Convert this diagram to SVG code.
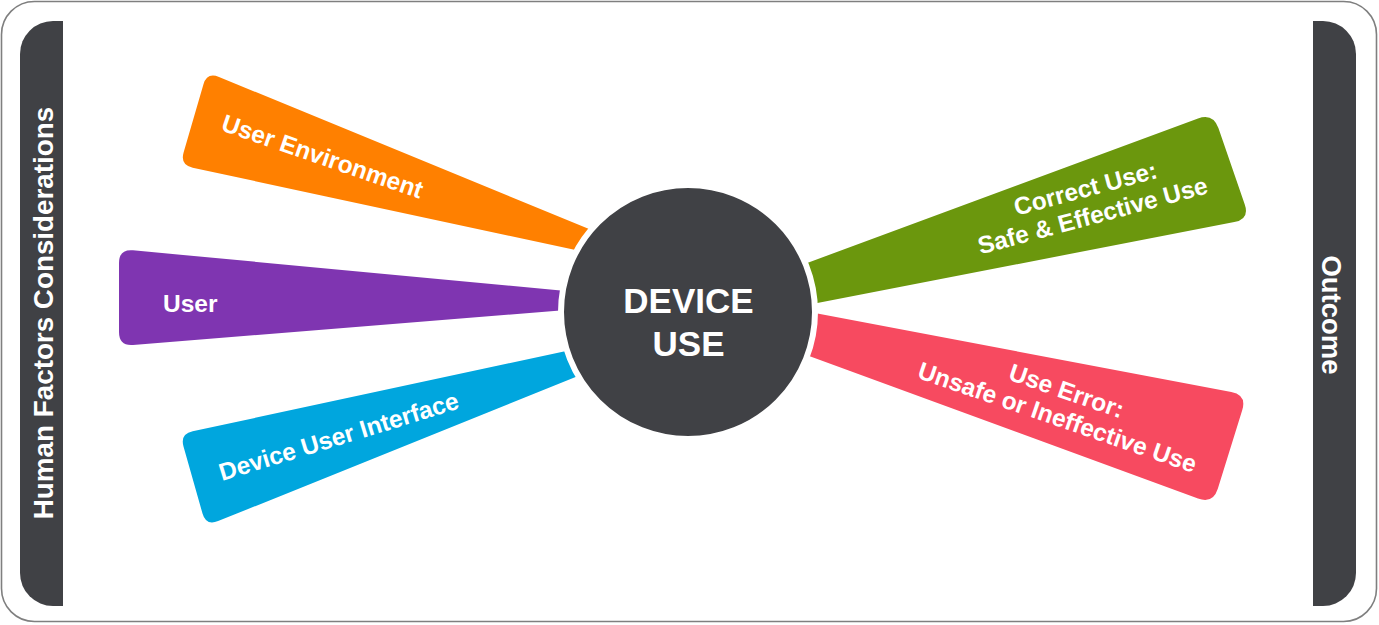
<svg xmlns="http://www.w3.org/2000/svg" width="1379" height="625" viewBox="0 0 1379 625">
<style>
text{font-family:"Liberation Sans",Arial,sans-serif;font-weight:bold;fill:#ffffff}
.lbl{font-size:24.5px}
.bar{fill:#404145}
</style>
<rect x="1.5" y="1.5" width="1375" height="620" rx="33" ry="33" fill="#ffffff" stroke="#7f7f7f" stroke-width="1.6"/>
<g id="left-bar">
<path class="bar" d="M63,21 L53,21 A33,33 0 0 0 20,54 L20,573 A33,33 0 0 0 53,606 L63,606 Z"/>
<text transform="translate(53,313) rotate(-90)" text-anchor="middle" font-size="27.8">Human Factors Considerations</text>
</g>
<g id="right-bar">
<path class="bar" d="M1313,21 L1323,21 A33,33 0 0 1 1356,54 L1356,573 A33,33 0 0 1 1323,606 L1313,606 Z"/>
<text transform="translate(1322,315) rotate(90)" text-anchor="middle" font-size="27.5">Outcome</text>
</g>
<g id="connectors">
<path id="w-env" fill="#ff8000" d="M650,254 L219,77 Q207,72 203.4,84.5 L183.6,152.5 Q180,165 192.7,167.7 L650,266 Z"/>
<path id="w-user" fill="#7f35b1" d="M640,298 L133,250.3 Q119,249 119,263 L119,332 Q119,346 133,344.9 L640,304 Z"/>
<path id="w-dui" fill="#00a6de" d="M650,333 L192.7,431.3 Q180,434 183.5,446.5 L202.5,513.5 Q206,526 218.1,521.1 L650,347 Z"/>
<path id="w-correct" fill="#6b970d" d="M730,291.5 L1198,118.5 Q1213,113 1218.4,128.1 L1244.6,204 Q1250,219 1234.3,222 L730,320 Z"/>
<path id="w-error" fill="#f74a60" d="M730,297 L1231.3,392 Q1247,395 1242.2,410.3 L1217.8,488.7 Q1213,504 1198,498.5 L730,327 Z"/>
</g>
<g id="device-use">
<circle cx="688" cy="312" r="127" fill="#404145" stroke="#ffffff" stroke-width="6"/>
<text x="688.5" y="313" text-anchor="middle" font-size="35">DEVICE</text>
<text x="688.5" y="356" text-anchor="middle" font-size="35">USE</text>
</g>
<g id="user-environment">
<text class="lbl" transform="translate(220,130) rotate(19)">User Environment</text>
</g>
<g id="user">
<text class="lbl" x="163" y="312">User</text>
</g>
<g id="device-user-interface">
<text class="lbl" transform="translate(222,481) rotate(-17)">Device User Interface</text>
</g>
<g id="correct-use">
<text class="lbl" transform="translate(1089,202) rotate(-15)" text-anchor="middle"><tspan x="0" y="-5.5">Correct Use:</tspan><tspan x="0" y="22.5">Safe &amp; Effective Use</tspan></text>
</g>
<g id="use-error">
<text class="lbl" transform="translate(1062,404) rotate(19)" text-anchor="middle"><tspan x="0" y="-5.5">Use Error:</tspan><tspan x="0" y="22.5">Unsafe or Ineffective Use</tspan></text>
</g>
</svg>
